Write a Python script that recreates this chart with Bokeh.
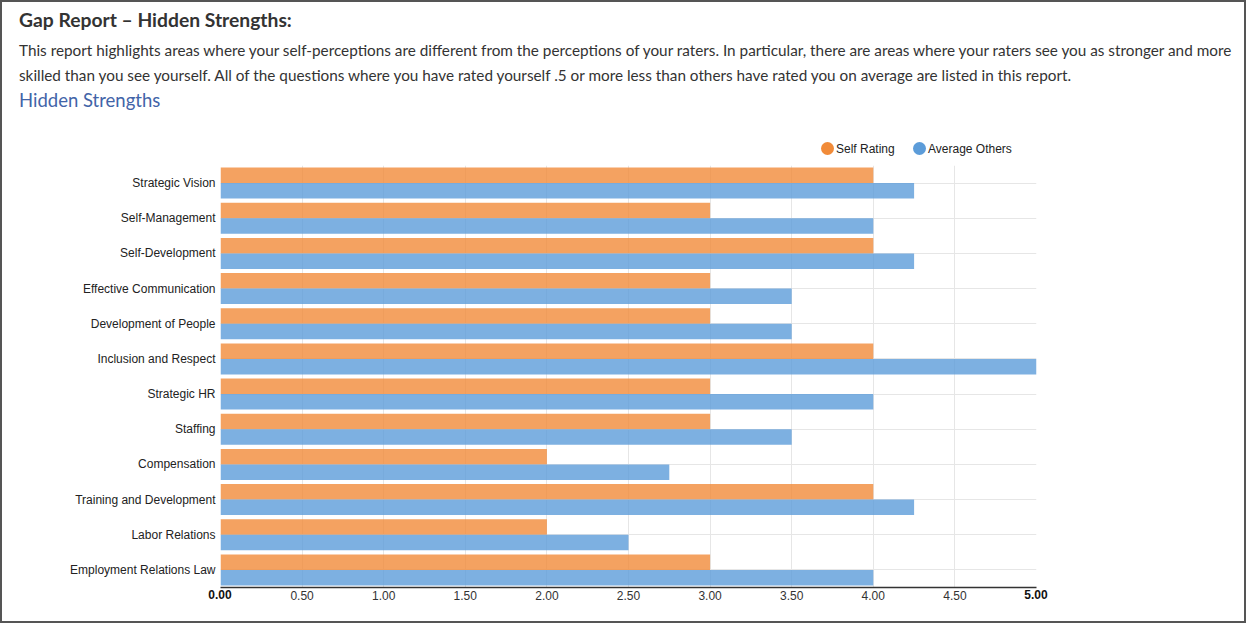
from bokeh.plotting import figure
from bokeh.layouts import column
from bokeh.models import (FactorRange, FixedTicker, Range1d, NumeralTickFormatter,
                          ColumnDataSource, Div)
from bokeh.transform import dodge
from bokeh.embed import file_html
from bokeh.resources import INLINE

categories = ["Strategic Vision", "Self-Management", "Self-Development",
              "Effective Communication", "Development of People",
              "Inclusion and Respect", "Strategic HR", "Staffing",
              "Compensation", "Training and Development", "Labor Relations",
              "Employment Relations Law"]
self_rating = [4, 3, 4, 3, 3, 4, 3, 3, 2, 4, 2, 3]
average_others = [4.25, 4, 4.25, 3.5, 3.5, 5, 4, 3.5, 2.75, 4.25, 2.5, 4]
x_ticks = [0.0, 0.5, 1.0, 1.5, 2.0, 2.5, 3.0, 3.5, 4.0, 4.5, 5.0]
series_names = ["Self Rating", "Average Others"]

title_text = "Gap Report \u2013 Hidden Strengths:"
para_lines = [
    "This report highlights areas where your self-perceptions are different from the perceptions of your raters. In particular, there are areas where your raters see you as stronger and more",
    "skilled than you see yourself. All of the questions where you have rated yourself .5 or more less than others have rated you on average are listed in this report.",
]
subtitle_text = "Hidden Strengths"

ORANGE = "#F18B39"
BLUE = "#5C9CD9"

X_MIN, X_MAX = x_ticks[0], x_ticks[-1]
W, H = 1246, 623
HEADER_H = 160
LEFT, RIGHT, TOP, BOTTOM = 220, 210, 5, 36
AXIS_Y = H - BOTTOM  # page y of the x-axis baseline
LABEL_FONT = "'Liberation Sans',Arial,sans-serif"


def legend_item(left, color, label):
    return (
        f'<div style="position:absolute;left:{left}px;top:142px;width:13px;height:13px;'
        f'border-radius:50%;background:{color};"></div>'
        f'<div style="position:absolute;left:{left + 15}px;top:141px;font-family:{LABEL_FONT};'
        f'font-size:12px;line-height:16px;color:#222222;white-space:nowrap;">{label}</div>'
    )


def end_tick(side, edge_px, v):
    shift = "-50%" if side == "left" else "50%"
    return (
        f'<div style="position:absolute;z-index:40;{side}:{edge_px}px;top:{AXIS_Y}px;'
        f'transform:translateX({shift});font-family:{LABEL_FONT};font-size:12px;'
        f'font-weight:bold;line-height:16px;color:#111111;white-space:nowrap;">{v:.2f}</div>'
    )


header_html = (
    f'<div style="position:relative;width:{W}px;height:{HEADER_H}px;'
    'font-family:Lato,sans-serif;color:#333333;">'
    f'<div style="position:absolute;left:0;top:0;width:{W}px;height:{H}px;box-sizing:border-box;'
    'border:2px solid #555555;pointer-events:none;z-index:50;"></div>'
    '<div style="position:absolute;left:19px;top:8px;font-size:19.3px;font-weight:bold;'
    f'line-height:24px;white-space:nowrap;">{title_text}</div>'
    '<div style="position:absolute;left:19px;top:38px;font-size:15.3px;line-height:25px;'
    f'white-space:nowrap;">{para_lines[0]}<br>{para_lines[1]}</div>'
    '<div style="position:absolute;left:19px;top:88px;font-size:18.5px;line-height:24px;'
    f'color:#4264A8;white-space:nowrap;">{subtitle_text}</div>'
    + legend_item(821, ORANGE, series_names[0])
    + legend_item(913, BLUE, series_names[1])
    + end_tick("left", LEFT, X_MIN)
    + end_tick("right", RIGHT, X_MAX)
    + '</div>'
)
header = Div(text=header_html, width=W, height=HEADER_H, margin=0,
             styles={"overflow": "visible"})

src = ColumnDataSource(dict(cat=categories, self=self_rating, others=average_others))

p = figure(width=W, height=H - HEADER_H, output_backend="svg", toolbar_location=None,
           y_range=FactorRange(factors=list(reversed(categories)), range_padding=0),
           x_range=Range1d(X_MIN, X_MAX), margin=0,
           min_border_left=LEFT, min_border_right=RIGHT, min_border_top=TOP,
           min_border_bottom=BOTTOM)
p.outline_line_color = None

p.hbar(y=dodge("cat", 0.22, range=p.y_range), right="self", left=0, height=0.44,
       source=src, fill_color=ORANGE, fill_alpha=0.8, line_color=None)
p.hbar(y=dodge("cat", -0.22, range=p.y_range), right="others", left=0, height=0.44,
       source=src, fill_color=BLUE, fill_alpha=0.8, line_color=None)

# x axis (inner ticks; the bold end values are placed at the frame edges)
p.xaxis.ticker = FixedTicker(ticks=x_ticks[1:-1])
p.xaxis.formatter = NumeralTickFormatter(format="0.00")
p.xaxis.major_tick_out = 0
p.xaxis.major_tick_in = 0
p.xaxis.minor_tick_out = 0
p.xaxis.minor_tick_in = 0
p.xaxis.axis_line_color = "#333333"
p.xaxis.axis_line_width = 1.5
p.xaxis.major_label_standoff = 3
p.xaxis.major_label_text_font = "Liberation Sans"
p.xaxis.major_label_text_font_size = "12px"
p.xaxis.major_label_text_color = "#333333"

p.yaxis.major_tick_out = 0
p.yaxis.major_tick_in = 0
p.yaxis.axis_line_color = None
p.yaxis.major_label_standoff = 5
p.yaxis.major_label_text_font = "Liberation Sans"
p.yaxis.major_label_text_font_size = "12px"
p.yaxis.major_label_text_color = "#222222"

p.xgrid.ticker = FixedTicker(ticks=x_ticks[1:-1])
p.xgrid.grid_line_color = "#e6e6e6"
p.ygrid.grid_line_color = "#e6e6e6"

layout = column(header, p, spacing=0, margin=0)

open("out.html", "w").write(file_html(layout, INLINE))
